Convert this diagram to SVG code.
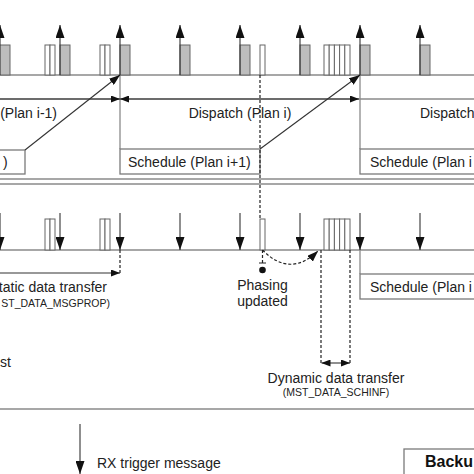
<svg xmlns="http://www.w3.org/2000/svg" width="474" height="474" viewBox="0 0 474 474">
<style>
.ln{stroke:#8a8a8a;stroke-width:1.3;fill:none}
.bx{stroke:#7a7a7a;stroke-width:1.3;fill:#fff}
.gb{fill:#bdbdbd;stroke:#666;stroke-width:1}
.wb{fill:#fff;stroke:#666;stroke-width:1}
.ar{stroke:#333;stroke-width:1.1;fill:none}
.ds{stroke:#222;stroke-width:1.2;fill:none;stroke-dasharray:3 2}
.t{font-family:"Liberation Sans",Arial,sans-serif;font-size:14px;fill:#222}
.s{font-family:"Liberation Sans",Arial,sans-serif;font-size:10.5px;fill:#222}
.b{font-family:"Liberation Sans",Arial,sans-serif;font-size:16px;font-weight:bold;fill:#111}
</style>
<defs>
<marker id="big" viewBox="0 0 13 9" refX="13" refY="4.5" markerWidth="13" markerHeight="9" markerUnits="userSpaceOnUse" orient="auto-start-reverse"><path d="M0,0 L13,4.5 L0,9 z" fill="#111"/></marker>
<marker id="sm" viewBox="0 0 9 7" refX="9" refY="3.5" markerWidth="9" markerHeight="7" markerUnits="userSpaceOnUse" orient="auto-start-reverse"><path d="M0,0 L9,3.5 L0,7 z" fill="#111"/></marker>
<marker id="dg" viewBox="0 0 11 8" refX="11" refY="4" markerWidth="11" markerHeight="8" markerUnits="userSpaceOnUse" orient="auto"><path d="M0,0 L11,4 L0,8 z" fill="#111"/></marker>
</defs>

<g id="frame">
<line class="ln" x1="0" y1="75" x2="474" y2="75"/>
<line class="ln" x1="0" y1="99" x2="474" y2="99"/>
<line class="ln" x1="0" y1="179" x2="474" y2="179"/>
<line class="ln" x1="0" y1="184" x2="474" y2="184"/>
<line class="ln" x1="0" y1="250" x2="474" y2="250"/>
<line class="ln" x1="0" y1="409" x2="474" y2="409"/>
<line class="ln" x1="120" y1="75" x2="120" y2="149"/>
<line class="ln" x1="360" y1="75" x2="360" y2="149"/>
<line class="ln" x1="360" y1="250" x2="360" y2="274"/>
</g>

<g id="top-bars">
<rect class="gb" x="-1" y="45" width="11" height="30"/>
<rect class="gb" x="60" y="45" width="10" height="30"/>
<rect class="gb" x="120" y="45" width="10" height="30"/>
<rect class="gb" x="180" y="45" width="10" height="30"/>
<rect class="gb" x="240" y="45" width="10" height="30"/>
<rect class="gb" x="300" y="45" width="10" height="30"/>
<rect class="gb" x="360" y="45" width="10" height="30"/>
<rect class="gb" x="420" y="45" width="10" height="30"/>
<rect class="wb" x="45" y="45" width="5" height="30"/>
<rect class="wb" x="50" y="45" width="5" height="30"/>
<rect class="wb" x="100" y="45" width="5" height="30"/>
<rect class="wb" x="105" y="45" width="5" height="30"/>
<rect class="wb" x="260" y="45" width="5" height="30"/>
<rect class="wb" x="324" y="45" width="5.2" height="30"/>
<rect class="wb" x="329.2" y="45" width="5.2" height="30"/>
<rect class="wb" x="334.4" y="45" width="5.2" height="30"/>
<rect class="wb" x="339.6" y="45" width="5.2" height="30"/>
<rect class="wb" x="344.8" y="45" width="5.2" height="30"/>
</g>

<g id="bottom-bars">
<rect class="wb" x="45" y="219" width="5" height="31"/>
<rect class="wb" x="50" y="219" width="5" height="31"/>
<rect class="wb" x="100" y="219" width="5" height="31"/>
<rect class="wb" x="105" y="219" width="5" height="31"/>
<rect class="wb" x="260" y="219" width="5" height="31"/>
<rect class="wb" x="324" y="219" width="5.2" height="31"/>
<rect class="wb" x="329.2" y="219" width="5.2" height="31"/>
<rect class="wb" x="334.4" y="219" width="5.2" height="31"/>
<rect class="wb" x="339.6" y="219" width="5.2" height="31"/>
<rect class="wb" x="344.8" y="219" width="5.2" height="31"/>
</g>

<g id="schedule-boxes">
<rect class="bx" x="-10" y="150" width="35" height="24"/>
<rect class="bx" x="120" y="149" width="140" height="25"/>
<rect class="bx" x="360" y="149" width="130" height="25"/>
<rect class="bx" x="360" y="274" width="130" height="25"/>
<rect class="bx" x="404" y="449" width="90" height="40"/>
</g>

<g id="connectors">
<line class="ar" x1="0" y1="75" x2="0" y2="25" marker-end="url(#big)"/>
<line class="ar" x1="60" y1="75" x2="60" y2="25" marker-end="url(#big)"/>
<line class="ar" x1="120" y1="75" x2="120" y2="25" marker-end="url(#big)"/>
<line class="ar" x1="180" y1="75" x2="180" y2="25" marker-end="url(#big)"/>
<line class="ar" x1="240" y1="75" x2="240" y2="25" marker-end="url(#big)"/>
<line class="ar" x1="300" y1="75" x2="300" y2="25" marker-end="url(#big)"/>
<line class="ar" x1="360" y1="75" x2="360" y2="25" marker-end="url(#big)"/>
<line class="ar" x1="420" y1="75" x2="420" y2="25" marker-end="url(#big)"/>

<line class="ar" x1="0" y1="213" x2="0" y2="250" marker-end="url(#big)"/>
<line class="ar" x1="60" y1="213" x2="60" y2="250" marker-end="url(#big)"/>
<line class="ar" x1="120" y1="213" x2="120" y2="250" marker-end="url(#big)"/>
<line class="ar" x1="180" y1="213" x2="180" y2="250" marker-end="url(#big)"/>
<line class="ar" x1="240" y1="213" x2="240" y2="250" marker-end="url(#big)"/>
<line class="ar" x1="300" y1="213" x2="300" y2="250" marker-end="url(#big)"/>
<line class="ar" x1="360" y1="213" x2="360" y2="250" marker-end="url(#big)"/>
<line class="ar" x1="420" y1="213" x2="420" y2="250" marker-end="url(#big)"/>

<line class="ar" x1="-5" y1="99" x2="120" y2="99" marker-end="url(#sm)"/>
<line class="ar" x1="120" y1="99" x2="359" y2="99" marker-start="url(#sm)" marker-end="url(#sm)"/>

<line class="ar" x1="25" y1="150" x2="120" y2="75" marker-end="url(#dg)"/>
<line class="ar" x1="260" y1="149" x2="360" y2="75" marker-end="url(#dg)"/>

<line class="ds" x1="260" y1="75" x2="260" y2="219"/>
<line class="ds" x1="262.5" y1="250" x2="262.5" y2="264"/>
<line stroke="#222" stroke-width="1" x1="259" y1="263" x2="266" y2="263"/>
<circle cx="262.5" cy="270" r="3.3" fill="#111"/>
<path class="ds" d="M262.5,250 Q290,278 318,251" marker-end="url(#dg)"/>

<line class="ar" x1="-5" y1="273" x2="120" y2="273" marker-end="url(#sm)"/>
<line class="ds" x1="120" y1="250" x2="120" y2="273"/>

<line class="ds" x1="321" y1="250" x2="321" y2="363"/>
<line class="ds" x1="350" y1="250" x2="350" y2="363"/>
<line class="ar" x1="321.5" y1="363" x2="350" y2="363" marker-start="url(#sm)" marker-end="url(#sm)"/>

<line class="ar" x1="80" y1="424" x2="80" y2="474" marker-end="url(#big)"/>
</g>

<g id="labels">
<text class="t" x="57" y="118" text-anchor="end">(Plan i-1)</text>
<text class="t" x="240" y="118" text-anchor="middle">Dispatch (Plan i)</text>
<text class="t" x="420" y="118">Dispatch</text>
<text class="t" x="3" y="167">)</text>
<text class="t" x="128" y="167">Schedule (Plan i+1)</text>
<text class="t" x="370" y="167">Schedule (Plan i</text>
<text class="t" x="370" y="292">Schedule (Plan i</text>
<text class="t" x="107" y="292" text-anchor="end">tatic data transfer</text>
<text class="s" x="110" y="307" text-anchor="end">ST_DATA_MSGPROP)</text>
<text class="t" x="262.5" y="290" text-anchor="middle">Phasing</text>
<text class="t" x="262.5" y="306" text-anchor="middle">updated</text>
<text class="t" x="336" y="383" text-anchor="middle">Dynamic data transfer</text>
<text class="s" x="336" y="396" text-anchor="middle">(MST_DATA_SCHINF)</text>
<text class="t" x="0" y="367">st</text>
<text class="t" x="97" y="468">RX trigger message</text>
<text class="b" x="425" y="467">Backu</text>
</g>
</svg>
